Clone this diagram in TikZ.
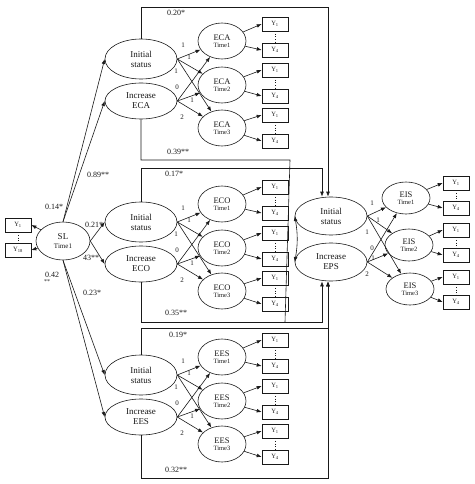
\documentclass[tikz,border=0pt]{standalone}
\usepackage{fontspec}
\setmainfont{Liberation Serif}
\usetikzlibrary{arrows,arrows.meta,shapes}
\usetikzlibrary{positioning}
\usetikzlibrary{calc}

\begin{document}
\begin{tikzpicture}[x=1pt, y=-1pt, color=black!90, line width=0.6pt, >={Latex[length=5pt,width=3.8pt]},
  latent/.style={ellipse, draw, minimum width=72pt, minimum height=38pt, inner sep=0pt, align=center, font=\fontsize{9}{10}\selectfont},
  wave/.style={ellipse, draw, minimum width=48pt, minimum height=36pt, inner sep=0pt, align=center, font=\fontsize{8.5}{8.5}\selectfont},
  ybox/.style={rectangle, draw, minimum width=26pt, minimum height=14pt, inner sep=0pt, font=\fontsize{6.5}{7}\selectfont},
  coef/.style={inner sep=0pt, font=\fontsize{8}{8}\selectfont},
  load/.style={inner sep=0pt, font=\fontsize{7}{7}\selectfont}]

  \useasboundingbox (0,0) rectangle (474,484);

	\def\xl{141};
	\def\xt{222};
	\def\xy{275};

%SL
    \node[latent, minimum width=54pt] (sl) at (63,241) {SL\\[-1pt]{\fontsize{7}{7}\selectfont Time1}};
    \node[ybox] (ysl1) at (18,225) {Y\textsubscript{1}};
    \node[ybox] (ysl18) at (18,250) {Y\textsubscript{18}};
    \draw[dotted] (ysl1.south) -- (ysl18.north);
    \draw[->] (sl) -- (ysl1.east);
    \draw[->] (sl) -- (ysl18.east);

%ECA, ECO, EES
    \foreach \g/\G/\dy in {eca/ECA/0, eco/ECO/163, ees/EES/316} {
         \node[latent, minimum height=40pt] (\g-ini) at (\xl,59+\dy) {Initial\\status};
         \node[latent, minimum height=36pt] (\g-inc) at (\xl,101+\dy) {Increase\\\G};
         \foreach \t/\y in {1/41, 2/85, 3/128} {
              \node[wave] (\g-t\t) at (\xt,\y+\dy) {\G\\[-1pt]{\fontsize{6.5}{7}\selectfont Time\t}};
              \draw[->] (\g-ini.east) -- (\g-t\t);
              \draw[->] (\g-inc.east) -- (\g-t\t);
         }
         \foreach \t/\y in {1/24, 2/70, 3/115} {
              \node[ybox] (\g-y\t-a) at (\xy,\y+\dy) {Y\textsubscript{1}};
              \node[ybox] (\g-y\t-b) at (\xy,\y+26+\dy) {Y\textsubscript{4}};
              \draw[dotted] (\g-y\t-a.south) -- (\g-y\t-b.north);
              \draw[->] (\g-t\t) -- (\g-y\t-a.west);
              \draw[->] (\g-t\t) -- (\g-y\t-b.west);
         }
         \foreach \x/\y/\num [count=\i] in {183/45/1, 189/57/1, 176/71/1, 177/87/0, 192/100/1, 182/117/2} {
              \node[load] (\g-l\i) at (\x,\y+\dy) {\num};
         }
    }

%SL paths
    \draw[->] (sl.north) -- (eca-ini.west);
    \draw[->] (sl.north) -- (eca-inc.west);
    \draw[->] (sl.east) -- (eco-ini.west);
    \draw[->] (sl.east) -- (eco-inc.west);
    \draw[->] (sl.south) -- (ees-ini.west);
    \draw[->] (sl.south) -- (ees-inc.west);

    \node[coef] (k14) at (54,207) {0.14*};
    \node[coef] (k89) at (98,175) {0.89**};
    \node[coef] (k21) at (94,225) {0.21*};
    \node[coef] (k43) at (91,258) {43**};
    \node[coef] (k42) at (52,275) {0.42};
    \node[coef, font=\fontsize{6}{6}\selectfont] (k42s) at (47,282) {**};
    \node[coef] (k23) at (92,293) {0.23*};

%EPS
    \node[latent] (eps-ini) at (331,216) {Initial\\status};
    \node[latent] (eps-inc) at (331,262) {Increase\\EPS};
    \draw[<->] (eps-ini.west) to[bend left=10] (eps-inc.west);

%paths to EPS
    \coordinate (c20) at (328,7);
    \draw[->] (eca-ini.north) |- (c20) -- (c20 |- eps-ini.north);
    \node[coef] (k20) at (176,13) {0.20*};

    \coordinate (c39a) at (290,160);
    \coordinate (c39b) at (285,322);
    \draw (eca-inc.south) |- (c39a) -- (c39b);
    \node[coef] (k39) at (178,152) {0.39**};

    \coordinate (c17) at (322,168);
    \draw[->] (eco-ini.north) |- (c17) -- (c17 |- eps-ini.north);
    \node[coef] (k17) at (174,174) {0.17*};

    \coordinate (c35) at (322,322);
    \draw[->] (eco-inc.south) |- (c35) -- (c35 |- eps-inc.south);
    \node[coef] (k35) at (176,313) {0.35**};

    \coordinate (c19) at (328,328);
    \draw[->] (ees-ini.north) |- (c19) -- (c19 |- eps-inc.south);
    \node[coef] (k19) at (178,335) {0.19*};

    \coordinate (c32) at (328,478);
    \draw[->] (ees-inc.south) |- (c32) -- (c32 |- eps-inc.south);
    \node[coef] (k32) at (176,470) {0.32**};

%EIS
    \foreach \t/\x/\y in {1/406/198, 2/409/245, 3/410/289} {
         \node[wave, minimum height=32pt] (eis-t\t) at (\x,\y) {EIS\\[-1pt]{\fontsize{6.5}{7}\selectfont Time\t}};
         \draw[->] (eps-ini.east) -- (eis-t\t);
         \draw[->] (eps-inc.east) -- (eis-t\t);
    }
    \foreach \t/\y in {1/183, 2/230, 3/277} {
         \node[ybox] (eis-y\t-a) at (456,\y) {Y\textsubscript{1}};
         \node[ybox] (eis-y\t-b) at (456,\y+25) {Y\textsubscript{4}};
         \draw[dotted] (eis-y\t-a.south) -- (eis-y\t-b.north);
         \draw[->] (eis-t\t) -- (eis-y\t-a.west);
         \draw[->] (eis-t\t) -- (eis-y\t-b.west);
    }
    \foreach \x/\y/\num [count=\i] in {372/203/1, 378/220/1, 367/232/1, 372/248/0, 373/258/1, 367/274/2} {
         \node[load] (eis-l\i) at (\x,\y) {\num};
    }

\end{tikzpicture}
\end{document}
